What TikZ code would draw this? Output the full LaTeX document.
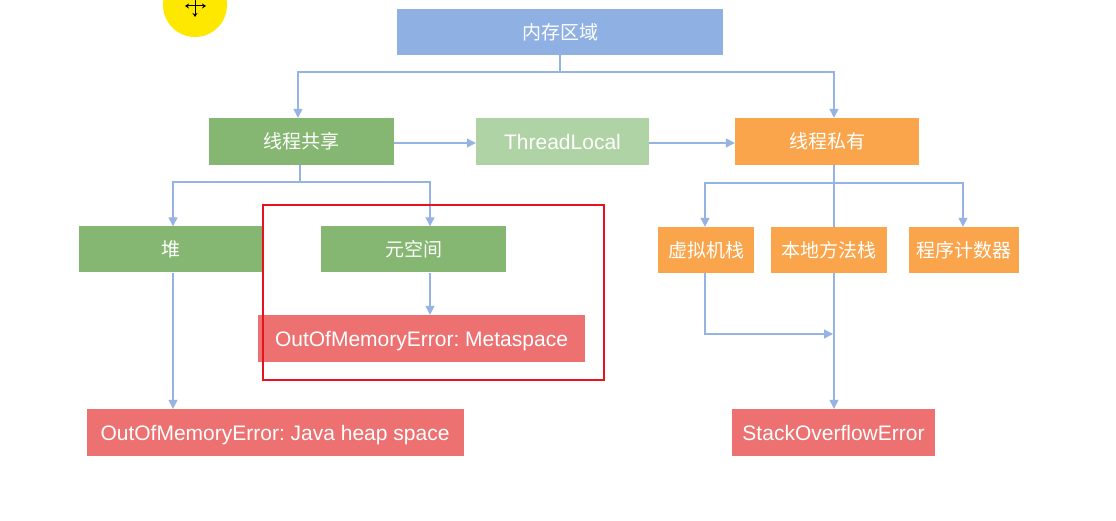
\documentclass[tikz,border=0pt]{standalone}
\usepackage{fontspec}
\setmainfont{Liberation Sans}
\newfontfamily\cjk{Noto Sans CJK SC}
\usetikzlibrary{arrows.meta}
\frenchspacing
\definecolor{bluebox}{RGB}{143,176,227}
\definecolor{greenbox}{RGB}{133,182,114}
\definecolor{palegreen}{RGB}{176,211,166}
\definecolor{orangebox}{RGB}{250,165,75}
\definecolor{redbox}{RGB}{237,113,113}
\definecolor{linkcol}{RGB}{150,180,225}
\definecolor{framered}{RGB}{230,20,30}
\definecolor{marker}{RGB}{255,232,0}
\begin{document}
\begin{tikzpicture}[x=1pt,y=-1pt,
  box/.style={rectangle,inner sep=0pt,text=white,anchor=center},
  cjkt/.style={font=\cjk\fontsize{19}{22}\selectfont},
  lat/.style={font=\fontsize{21}{25}\selectfont,text depth=0pt},
  link/.style={draw=linkcol,line width=1.3pt},
  arr/.style={link,-{Triangle[length=9pt,width=9pt]}}]
\useasboundingbox (0,0) rectangle (1116,521);
\fill[white] (0,0) rectangle (1116,521);
% cursor marker
\fill[marker] (195,5) circle (32);
\draw[black,line width=1pt,{Stealth[length=4pt,width=5pt]}-{Stealth[length=4pt,width=5pt]}] (185,6) -- (206,6);
\draw[black,line width=1pt,{Stealth[length=4pt,width=5pt]}-{Stealth[length=4pt,width=5pt]}] (195,-5) -- (195,17);
% nodes
\node[box,cjkt,fill=bluebox,minimum width=326,minimum height=46] (mem) at (560,32) {内存区域};
\node[box,cjkt,fill=greenbox,minimum width=185,minimum height=47] (share) at (301.5,141.5) {线程共享};
\node[box,lat,fill=palegreen,minimum width=173,minimum height=47] (tl) at (562.5,141.5) {ThreadLocal};
\node[box,cjkt,fill=orangebox,minimum width=184,minimum height=47] (priv) at (827,141.5) {线程私有};
\node[box,cjkt,fill=greenbox,minimum width=184,minimum height=46] (heap) at (171,249.5) {堆};
\node[box,cjkt,fill=greenbox,minimum width=185,minimum height=46] (meta) at (413.5,249.5) {元空间};
\node[box,lat,fill=redbox,minimum width=327,minimum height=47] (oommeta) at (421.5,338.5) {OutOfMemoryError: Metaspace};
\node[box,lat,fill=redbox,minimum width=377,minimum height=47] (oomheap) at (275,432.5) {OutOfMemoryError: Java heap space};
\node[box,cjkt,fill=orangebox,minimum width=96,minimum height=46] (vm) at (706,250) {虚拟机栈};
\node[box,cjkt,fill=orangebox,minimum width=116,minimum height=46] (native) at (829,250) {本地方法栈};
\node[box,cjkt,fill=orangebox,minimum width=110,minimum height=46] (pc) at (964,250) {程序计数器};
\node[box,lat,fill=redbox,minimum width=203,minimum height=47] (soe) at (833.5,432.5) {StackOverflowError};
% junction coordinates
\coordinate (j1) at (560,72);
\coordinate (j2) at (300,182);
\coordinate (j3) at (834,183);
\coordinate (jv) at (833,334);
% connectors
\draw[link] (mem.south) -- (j1);
\draw[arr] (j1) -| ([xshift=-3.5pt]share.north);
\draw[arr] (j1) -| ([xshift=7pt]priv.north);
\draw[arr] ([yshift=-1.5pt]share.east) -- ([yshift=-1.5pt]tl.west);
\draw[arr] ([yshift=-1.5pt]tl.east) -- ([yshift=-1.5pt]priv.west);
\draw[link] ([xshift=-1.5pt]share.south) -- (j2);
\draw[arr] (j2) -| ([xshift=2pt]heap.north);
\draw[arr] (j2) -| ([xshift=16.5pt]meta.north);
\draw[arr] ([xshift=16.5pt]meta.south) -- ([xshift=8.5pt]oommeta.north);
\draw[arr] ([xshift=2pt]heap.south) -- ([xshift=-102pt]oomheap.north);
\draw[link] ([xshift=7pt]priv.south) -- ([xshift=5pt]native.north);
\draw[arr] (j3) -| ([xshift=-1pt]vm.north);
\draw[arr] (j3) -| ([xshift=-1pt]pc.north);
\draw[link] (j3) -| ([xshift=5pt]native.north);
\draw[arr] ([xshift=5pt]native.south) -- ([xshift=0.5pt]soe.north);
\draw[arr] ([xshift=-1pt]vm.south) |- (jv);
% highlight frame
\draw[framered,line width=1.5pt] (263,205) rectangle (604,380);
\end{tikzpicture}
\end{document}
